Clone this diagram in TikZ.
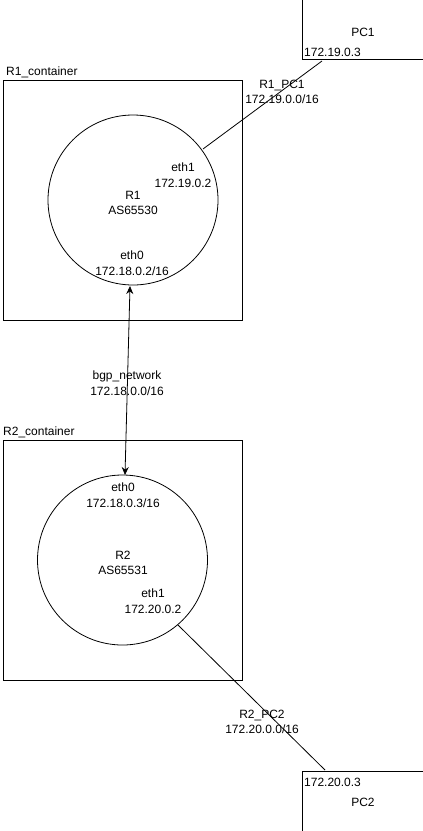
\documentclass[tikz,border=0pt]{standalone}
\usepackage{fontspec}
\setmainfont{Liberation Sans}
\usetikzlibrary{arrows.meta}
\begin{document}
\begin{tikzpicture}[x=1pt,y=-1pt]
      \tikzset{container/.style={draw, minimum width=239pt, minimum height=240pt, inner sep=0pt},
               router/.style={draw, circle, minimum size=170pt, inner sep=0pt},
               host/.style={draw, minimum width=160pt, minimum height=120pt, inner sep=0pt},
               txt/.style={align=center, inner sep=0pt, font=\fontsize{12}{15.5}\selectfont},
               link/.style={line width=0.8pt}}
      \useasboundingbox (0,0) rectangle (423,831);
      \clip (0,0) rectangle (423,831);
%% Containers
      	\node[container, line width=0.9pt] (r1box) at (122.5,200) {};
      	\node[container, line width=0.9pt] (r2box) at (122.5,560) {};
      	\node[txt, anchor=west] (r1name) at (6,72) {R1\_container};
      	\node[txt, anchor=west] (r2name) at (3,432) {R2\_container};
%% Routers
      	\node[router, link] (r1) at (133,200) {};
      	\node[router, link] (r2) at (122.5,560) {};
      	\node[txt] (r1as) at (133,203) {R1\\AS65530};
      	\node[txt] (r1eth1) at (183,175) {eth1\\172.19.0.2};
      	\node[txt] (r1eth0) at (132,263) {eth0\\172.18.0.2/16};
      	\node[txt] (r2as) at (123,563) {R2\\AS65531};
      	\node[txt] (r2eth0) at (123,495) {eth0\\172.18.0.3/16};
      	\node[txt] (r2eth1) at (153,601) {eth1\\172.20.0.2};
%% Hosts
      	\node[host, line width=0.9pt, anchor=south west] (pc1) at (302,60) {};
      	\node[host, line width=0.9pt, anchor=north west] (pc2) at (302,771) {};
      	\node[txt] (pc1name) at (363,32) {PC1};
      	\node[txt, anchor=west] (pc1ip) at (304,52) {172.19.0.3};
      	\node[txt, anchor=west] (pc2ip) at (304,782) {172.20.0.3};
      	\node[txt] (pc2name) at (363,802) {PC2};
%% Links
      	\coordinate (c1) at (203,149);
      	\coordinate (c2) at (322,61);
      	\coordinate (c3) at (178,625);
      	\coordinate (c4) at (325,770);
      	\coordinate (c5) at (130,286);
      	\coordinate (c6) at (125,475);
		\draw [link] (c1) -- (c2);
		\draw [link] (c3) -- (c4);
		\draw [link, {Stealth[length=8pt,width=7pt]}-{Stealth[length=8pt,width=7pt]}] (c5) -- (c6);
		\node[txt] (net1) at (282,92) {R1\_PC1\\172.19.0.0/16};
		\node[txt] (net2) at (262,722) {R2\_PC2\\172.20.0.0/16};
		\node[txt] (bgp) at (127,383) {bgp\_network\\172.18.0.0/16};

\end{tikzpicture}
\end{document}
